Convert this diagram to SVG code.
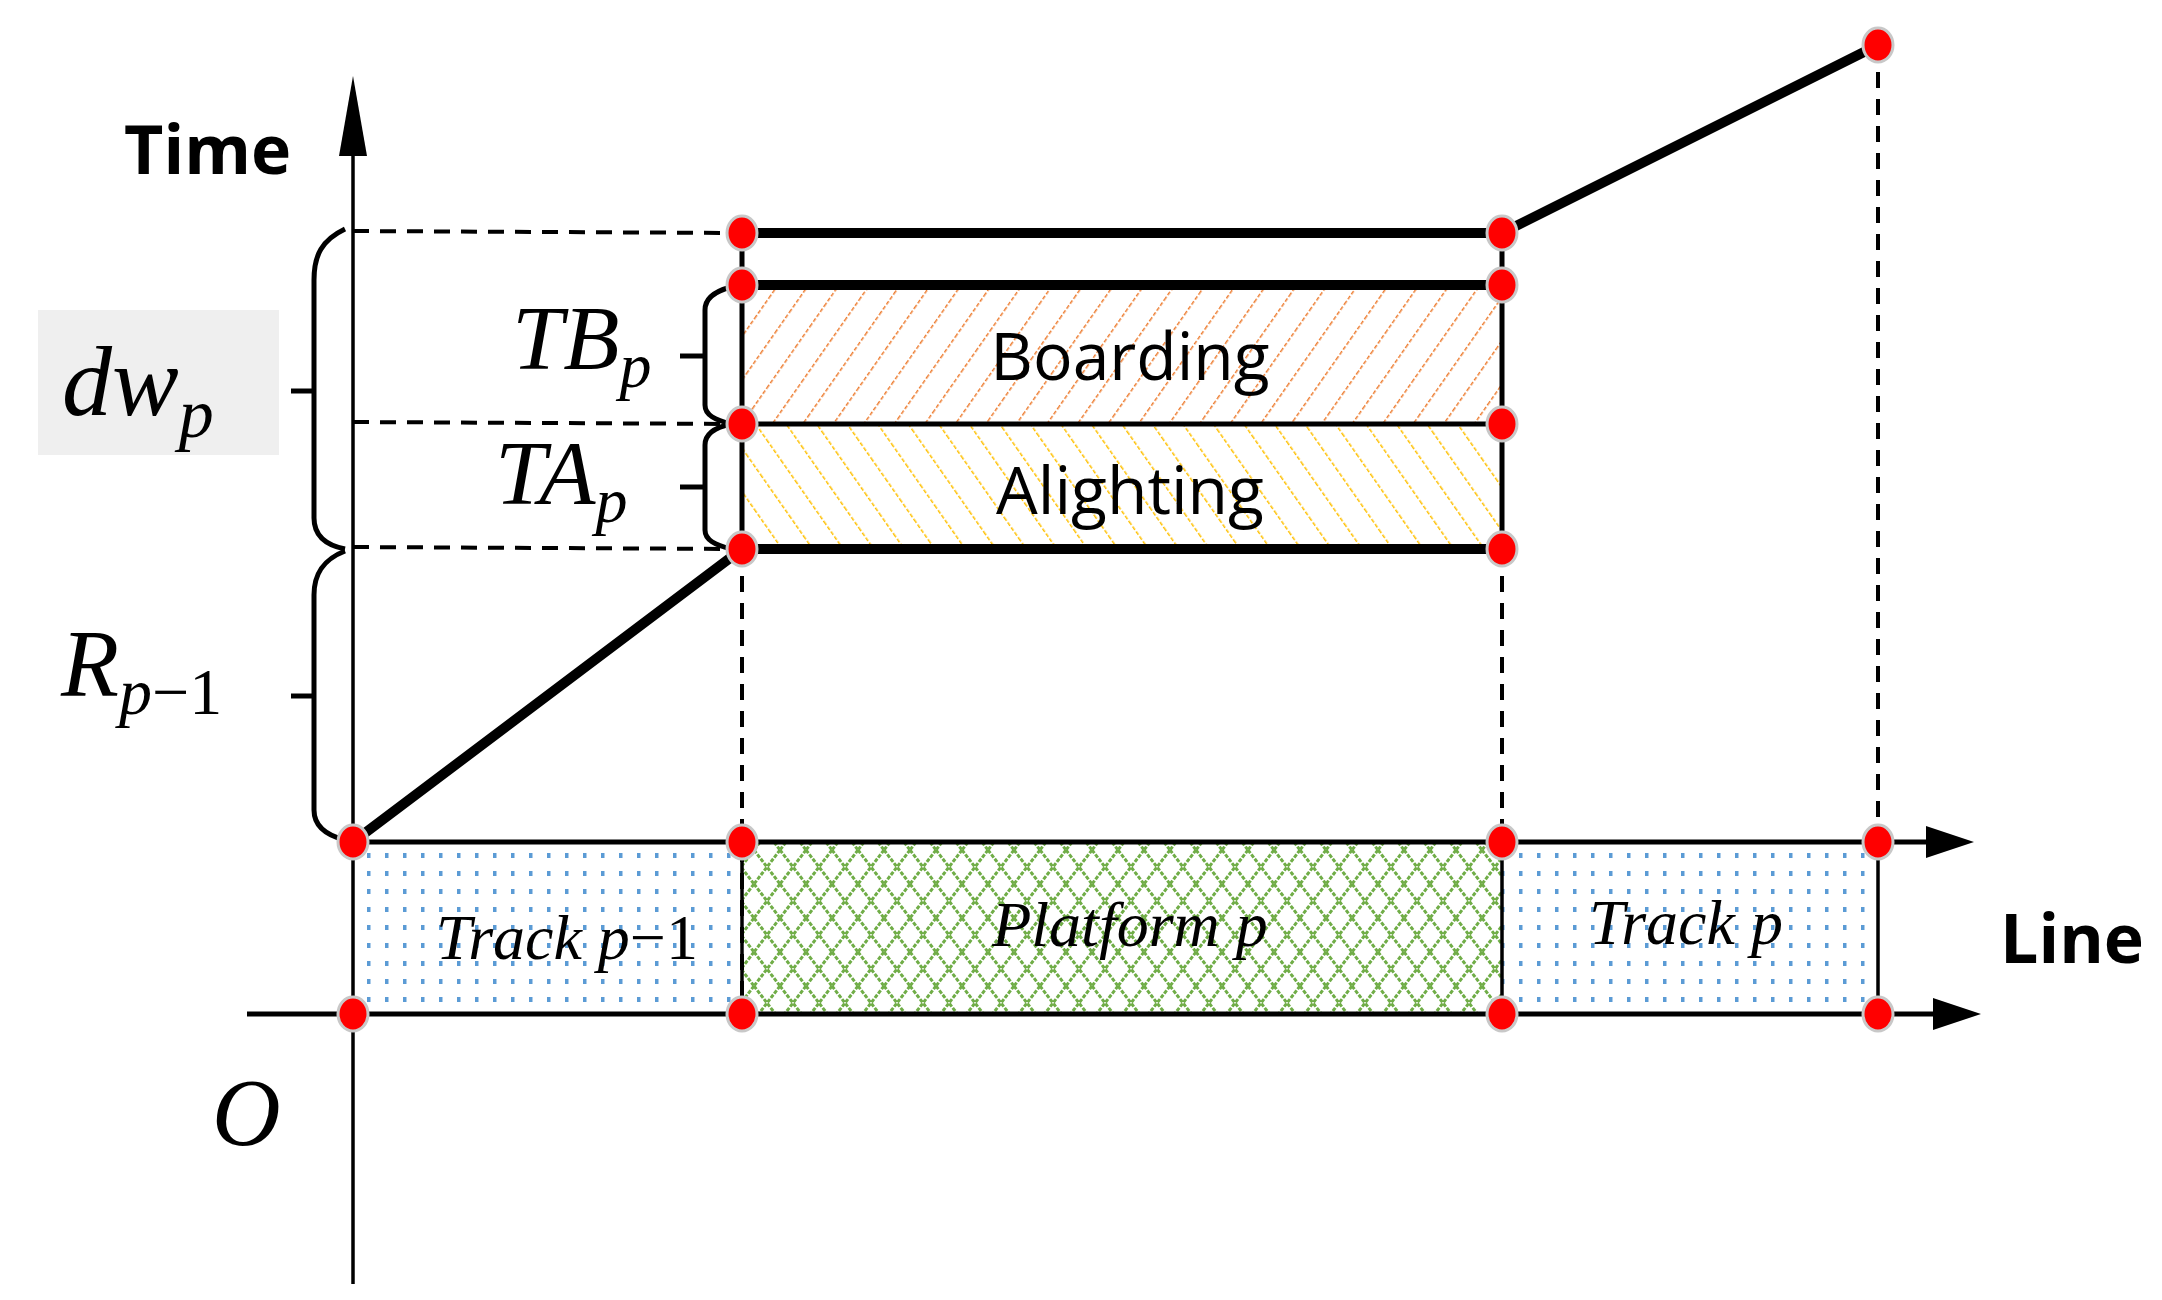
<svg xmlns="http://www.w3.org/2000/svg" width="2162" height="1300" viewBox="0 0 2162 1300">
<defs>
<pattern id="dots" width="18" height="18" patternUnits="userSpaceOnUse"><rect x="7" y="7" width="3.5" height="5" fill="#5B9BD5"/></pattern>
<pattern id="diam" width="26" height="34" patternUnits="userSpaceOnUse"><path d="M0,0 L26,34 M26,0 L0,34" stroke="#70AD47" stroke-width="3" stroke-dasharray="4,1.5" fill="none"/></pattern>
<pattern id="fw" width="25" height="25" patternUnits="userSpaceOnUse" patternTransform="rotate(35)"><line x1="0" y1="0" x2="0" y2="25" stroke="#ED7D31" stroke-width="3" stroke-dasharray="4,2"/></pattern>
<pattern id="bw" width="25" height="25" patternUnits="userSpaceOnUse" patternTransform="rotate(-35)"><line x1="0" y1="0" x2="0" y2="25" stroke="#FFC000" stroke-width="3" stroke-dasharray="4,2"/></pattern>
</defs>
<style>
.thick{stroke:#000;stroke-width:10;fill:none;stroke-linecap:round}
.mid{stroke:#000;stroke-width:5;fill:none}
.thin{stroke:#000;stroke-width:3.5;fill:none}
.dash{stroke:#000;stroke-width:4;stroke-dasharray:16,11;fill:none}
.dot{fill:#ff0000;stroke:#c8c8c8;stroke-width:3}
.math{font-family:"Liberation Serif",serif;font-style:italic;fill:#000}
.lbl{font-family:"Open Sans","Noto Sans",sans-serif;fill:#000}
.bold{font-family:"Open Sans",sans-serif;font-weight:bold;fill:#000}
</style>
<g id="areas">
<rect x="353" y="842" width="389" height="172" fill="url(#dots)"/>
<rect x="742" y="842" width="760" height="172" fill="url(#diam)"/>
<rect x="1502" y="842" width="376" height="172" fill="url(#dots)"/>
<rect x="742" y="285" width="760" height="139" fill="url(#fw)"/>
<rect x="742" y="424" width="760" height="125" fill="url(#bw)"/>
<rect x="38" y="310" width="241" height="145" fill="#efefef"/>
</g>
<g id="connectors">
<line x1="353" y1="1284" x2="353" y2="150" class="thin"/>
<polygon points="353,76 339,156 367,156" fill="#000"/>
<line x1="247" y1="1014" x2="1935" y2="1014" class="mid" stroke-width="6"/>
<polygon points="1981,1014 1933,998 1933,1030" fill="#000"/>
<line x1="353" y1="842" x2="1928" y2="842" class="mid" stroke-width="6"/>
<polygon points="1974,842 1926,826 1926,858" fill="#000"/>
<line x1="742" y1="842" x2="742" y2="1014" class="thin"/>
<line x1="1502" y1="842" x2="1502" y2="1014" class="thin"/>
<line x1="1878" y1="842" x2="1878" y2="1014" class="thin"/>
<line x1="353" y1="231" x2="742" y2="233" class="dash"/>
<line x1="353" y1="422" x2="742" y2="424" class="dash"/>
<line x1="353" y1="547" x2="742" y2="549" class="dash"/>
<line x1="742" y1="549" x2="742" y2="1030" class="dash"/>
<line x1="1502" y1="549" x2="1502" y2="842" class="dash"/>
<line x1="1878" y1="45" x2="1878" y2="842" class="dash"/>
<path d="M353,842 L742,549" class="thick"/>
<path d="M742,233 L1502,233 L1878,45" class="thick"/>
<line x1="742" y1="285" x2="1502" y2="285" class="thick"/>
<line x1="742" y1="424" x2="1502" y2="424" class="mid" stroke-width="6"/>
<line x1="742" y1="549" x2="1502" y2="549" class="thick"/>
<line x1="742" y1="233" x2="742" y2="549" class="mid" stroke-width="8"/>
<line x1="1502" y1="233" x2="1502" y2="549" class="mid" stroke-width="8"/>
<path d="M345,229 C322,240 314,255 314,280 L314,518 C314,535 325,545 345,549" class="mid" stroke-width="4"/>
<line x1="291" y1="391" x2="314" y2="391" class="mid"/>
<path d="M345,551 C322,560 314,575 314,595 L314,810 C314,825 325,835 345,840" class="mid" stroke-width="4"/>
<line x1="291" y1="696" x2="314" y2="696" class="mid"/>
<path d="M731,287 C712,292 705,300 705,310 L705,405 C705,415 715,420 731,424" class="mid" stroke-width="4"/>
<line x1="680" y1="356" x2="705" y2="356" class="mid"/>
<path d="M731,424 C712,428 705,435 705,445 L705,530 C705,540 715,545 731,549" class="mid" stroke-width="4"/>
<line x1="680" y1="487" x2="705" y2="487" class="mid"/>
</g>
<g id="points">
<ellipse cx="353" cy="842" rx="15" ry="17" class="dot"/>
<ellipse cx="742" cy="842" rx="15" ry="17" class="dot"/>
<ellipse cx="1502" cy="842" rx="15" ry="17" class="dot"/>
<ellipse cx="1878" cy="842" rx="15" ry="17" class="dot"/>
<ellipse cx="353" cy="1014" rx="15" ry="17" class="dot"/>
<ellipse cx="742" cy="1014" rx="15" ry="17" class="dot"/>
<ellipse cx="1502" cy="1014" rx="15" ry="17" class="dot"/>
<ellipse cx="1878" cy="1014" rx="15" ry="17" class="dot"/>
<ellipse cx="742" cy="233" rx="15" ry="17" class="dot"/>
<ellipse cx="742" cy="285" rx="15" ry="17" class="dot"/>
<ellipse cx="742" cy="424" rx="15" ry="17" class="dot"/>
<ellipse cx="742" cy="549" rx="15" ry="17" class="dot"/>
<ellipse cx="1502" cy="233" rx="15" ry="17" class="dot"/>
<ellipse cx="1502" cy="285" rx="15" ry="17" class="dot"/>
<ellipse cx="1502" cy="424" rx="15" ry="17" class="dot"/>
<ellipse cx="1502" cy="549" rx="15" ry="17" class="dot"/>
<ellipse cx="1878" cy="45" rx="15" ry="17" class="dot"/>
</g>
<g id="labels">
<text x="124" y="174" class="bold" font-size="68">Time</text>
<text x="2000" y="963" class="bold" font-size="68">Line</text>
<text x="62" y="415" class="math" font-size="100">dw<tspan font-size="70" dy="22">p</tspan></text>
<text x="61" y="696" class="math" font-size="95">R<tspan font-size="66" dy="18">p</tspan><tspan font-size="66" font-style="normal">−1</tspan></text>
<text x="512" y="369" class="math" font-size="92">TB<tspan font-size="64" dy="18">p</tspan></text>
<text x="495" y="504" class="math" font-size="92">TA<tspan font-size="64" dy="18">p</tspan></text>
<text x="1130" y="380" class="lbl" font-size="66" text-anchor="middle">Boarding</text>
<text x="1130" y="514" class="lbl" font-size="66" text-anchor="middle">Alighting</text>
<text x="567" y="959" class="math" font-size="64" text-anchor="middle">Track p<tspan font-style="normal">−1</tspan></text>
<text x="1130" y="946" class="math" font-size="64" text-anchor="middle">Platform p</text>
<text x="1686" y="944" class="math" font-size="64" text-anchor="middle">Track p</text>
<text x="212" y="1145" class="math" font-size="95">O</text>
</g>
</svg>
